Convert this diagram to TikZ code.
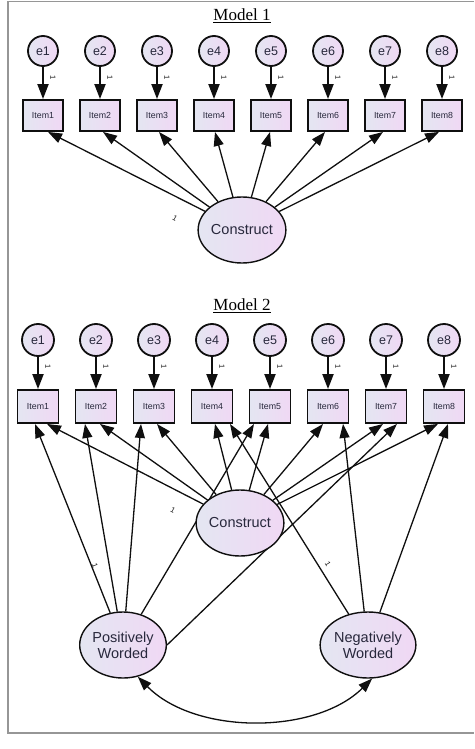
\documentclass[tikz,border=0pt]{standalone}
\usepackage{fontspec}
\setmainfont{Liberation Serif}
\setsansfont{Liberation Sans}
\usetikzlibrary{arrows.meta,shapes.geometric,backgrounds}

\definecolor{lineblack}{RGB}{15,15,15}
\definecolor{fillL}{RGB}{228,230,242}
\definecolor{fillR}{RGB}{240,216,244}
\definecolor{framegray}{RGB}{150,150,150}
\definecolor{txt}{RGB}{40,40,60}

\begin{document}
\begin{tikzpicture}[x=1pt,y=-1pt,
  errc/.style={circle,draw=lineblack,line width=1.8pt,minimum size=30pt,inner sep=0pt,
    left color=fillL,right color=fillR,font=\sffamily\fontsize{12.5}{12.5}\selectfont,text=txt},
  itembox/.style={rectangle,draw=lineblack,line width=1.9pt,minimum width=40pt,minimum height=31pt,
    inner sep=0pt,left color=fillL,right color=fillR,font=\sffamily\fontsize{8.8}{9}\selectfont,text=txt},
  latent/.style={ellipse,draw=lineblack,line width=1.4pt,minimum width=81pt,minimum height=66pt,
    inner sep=0pt,left color=fillL,right color=fillR,font=\sffamily\fontsize{14.5}{16}\selectfont,
    text=txt,align=center},
  errarrow/.style={draw=lineblack,line width=2pt,-{Triangle[length=15pt,width=11pt]}},
  loadarrow/.style={draw=lineblack,line width=1.3pt,-{Triangle[length=14pt,width=10pt]}},
  covarrow/.style={draw=lineblack,line width=1.3pt,{Triangle[length=14pt,width=10pt]}-{Triangle[length=14pt,width=10pt]}},
  fixlab/.style={font=\sffamily\fontsize{7.5}{7.5}\selectfont,text=lineblack,inner sep=0pt},
  titlelab/.style={font=\fontsize{17}{17}\selectfont,text=black}
]
\useasboundingbox (0,0) rectangle (474,749);

% ---------------- Model 1 ----------------
\node[titlelab] (t1) at (242,16) {\underline{Model 1}};
\foreach \i in {1,...,8} {
  \pgfmathsetmacro\xx{43+57*(\i-1)}
  \node[errc] (ae\i) at (\xx,51) {e\i};
  \node[itembox] (ai\i) at (\xx,115.5) {Item\i};
  \node[fixlab,rotate=-90] (ael\i) at (\xx+10,78) {1};
}
\node[latent] (ac) at (242,230) {Construct};
\node[fixlab,rotate=-30] (acl) at (175,218) {1};

% ---------------- Model 2 ----------------
\node[titlelab] (t2) at (242,306) {\underline{Model 2}};
\foreach \i in {1,...,8} {
  \pgfmathsetmacro\xx{38+58*(\i-1)}
  \node[errc,minimum size=32pt] (be\i) at (\xx,340) {e\i};
  \node[itembox,minimum width=41pt,minimum height=33pt] (bi\i) at (\xx,406.5) {Item\i};
  \node[fixlab,rotate=-90] (bel\i) at (\xx+10,367) {1};
}
\node[latent] (bc) at (240,523) {Construct};
\node[latent] (pw) at (123,645) {Positively\\Worded};
\node[latent] (nw) at (368,645) {Negatively\\Worded};
\node[fixlab,rotate=-29] (bcl) at (173,510) {1};
\node[fixlab,rotate=-71] (pwl) at (95,566) {1};
\node[fixlab,rotate=-60] (nwl) at (328,564) {1};

\begin{scope}[on background layer]
  % frame
  \draw[framegray,line width=1.2pt] (474,1.5) -- (8,1.5) -- (8,733) -- (474,733);
  % Model 1 connectors
  \foreach \i in {1,...,8} { \draw[errarrow] (ae\i) -- (ai\i); }
  \foreach \i/\dx in {1/5,2/3,3/2,4/1,5/-1,6/-3,7/-2,8/-3}
    { \draw[loadarrow] (ac) -- ([xshift=\dx pt]ai\i.south); }
  % Model 2 connectors
  \foreach \i in {1,...,8} { \draw[errarrow] (be\i) -- (bi\i); }
  \foreach \i/\dx in {1/9,2/4,3/3,4/3,5/-2,6/-5,7/-3,8/-6}
    { \draw[loadarrow] (bc) -- ([xshift=\dx pt]bi\i.south); }
  \foreach \i/\dx in {1/-3,2/-11,3/-13,5/-16}
    { \draw[loadarrow] (pw) -- ([xshift=\dx pt]bi\i.south); }
  \draw[loadarrow] (pw.east) -- ([xshift=11pt]bi7.south);
  \foreach \i/\dx in {4/18,6/15,8/4}
    { \draw[loadarrow] (nw) -- ([xshift=\dx pt]bi\i.south); }
  \draw[covarrow] (pw.-65) .. controls (195,735) and (315,735) .. (nw.-83);
\end{scope}
\end{tikzpicture}
\end{document}
